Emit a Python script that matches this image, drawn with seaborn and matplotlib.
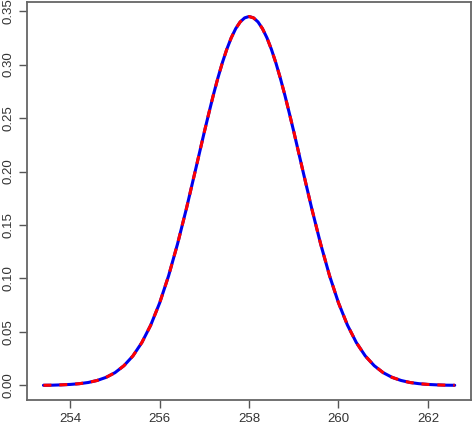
import numpy as np
import pandas as pd
import seaborn as sns
import matplotlib.pyplot as plt

# values
left_x = [253.4 + 0.2 * i for i in range(18)]          # 253.4 .. 256.8
left_y = [0.0001, 0.0002, 0.0005, 0.0009, 0.0016, 0.0027, 0.0046, 0.0075, 0.0119, 0.0184,
          0.0275, 0.0400, 0.0564, 0.0772, 0.1026, 0.1324, 0.1657, 0.2013]
mid_x = [257.0, 257.1, 257.2, 257.3, 257.4, 257.5, 257.6, 257.7, 257.8, 257.9, 258.0]
mid_y = [0.2373, 0.2546, 0.2715, 0.2872, 0.3015, 0.3142, 0.3250, 0.3336, 0.3399, 0.3437, 0.345]

x_vals = left_x + mid_x + [516 - v for v in mid_x[-2::-1]] + [516 - v for v in left_x[::-1]]
density = left_y + mid_y + mid_y[-2::-1] + left_y[::-1]

x_ticks = [254, 256, 258, 260, 262]
y_ticks = [0.00, 0.05, 0.10, 0.15, 0.20, 0.25, 0.30, 0.35]

df = pd.DataFrame({'x': x_vals, 'density': density})

sns.set_theme(style='ticks')
plt.rcParams['font.family'] = ['Liberation Sans', 'DejaVu Sans']

fig = plt.figure(figsize=(4.74, 4.34), dpi=100)
ax = fig.add_axes([0.057, 0.078, 0.937, 0.918])

sns.lineplot(data=df, x='x', y='density', ax=ax, color='#0000ee', linewidth=2.2)
sns.lineplot(data=df, x='x', y='density', ax=ax, color='#ff0000', linewidth=2.2)
ax.lines[-1].set_dashes((2.6, 2.6))

xr = max(x_vals) - min(x_vals)
ax.set_xlim(min(x_vals) - 0.04 * xr, max(x_vals) + 0.04 * xr)
yr = max(density)
ax.set_ylim(-0.04 * yr, yr * 1.04)

ax.set_xticks(x_ticks)
ax.set_yticks(y_ticks)
ax.set_xticklabels([str(t) for t in x_ticks])
ax.set_yticklabels([f'{t:.2f}' for t in y_ticks], rotation=90, va='center')
ax.tick_params(axis='both', length=6, width=1, color='#555555', labelsize=9.5,
               labelcolor='#333333', pad=3)
ax.set_xlabel('')
ax.set_ylabel('')
for s in ax.spines.values():
    s.set_visible(True)
    s.set_color('#666666')
    s.set_linewidth(1.3)

fig.savefig('out.png', dpi=100)
